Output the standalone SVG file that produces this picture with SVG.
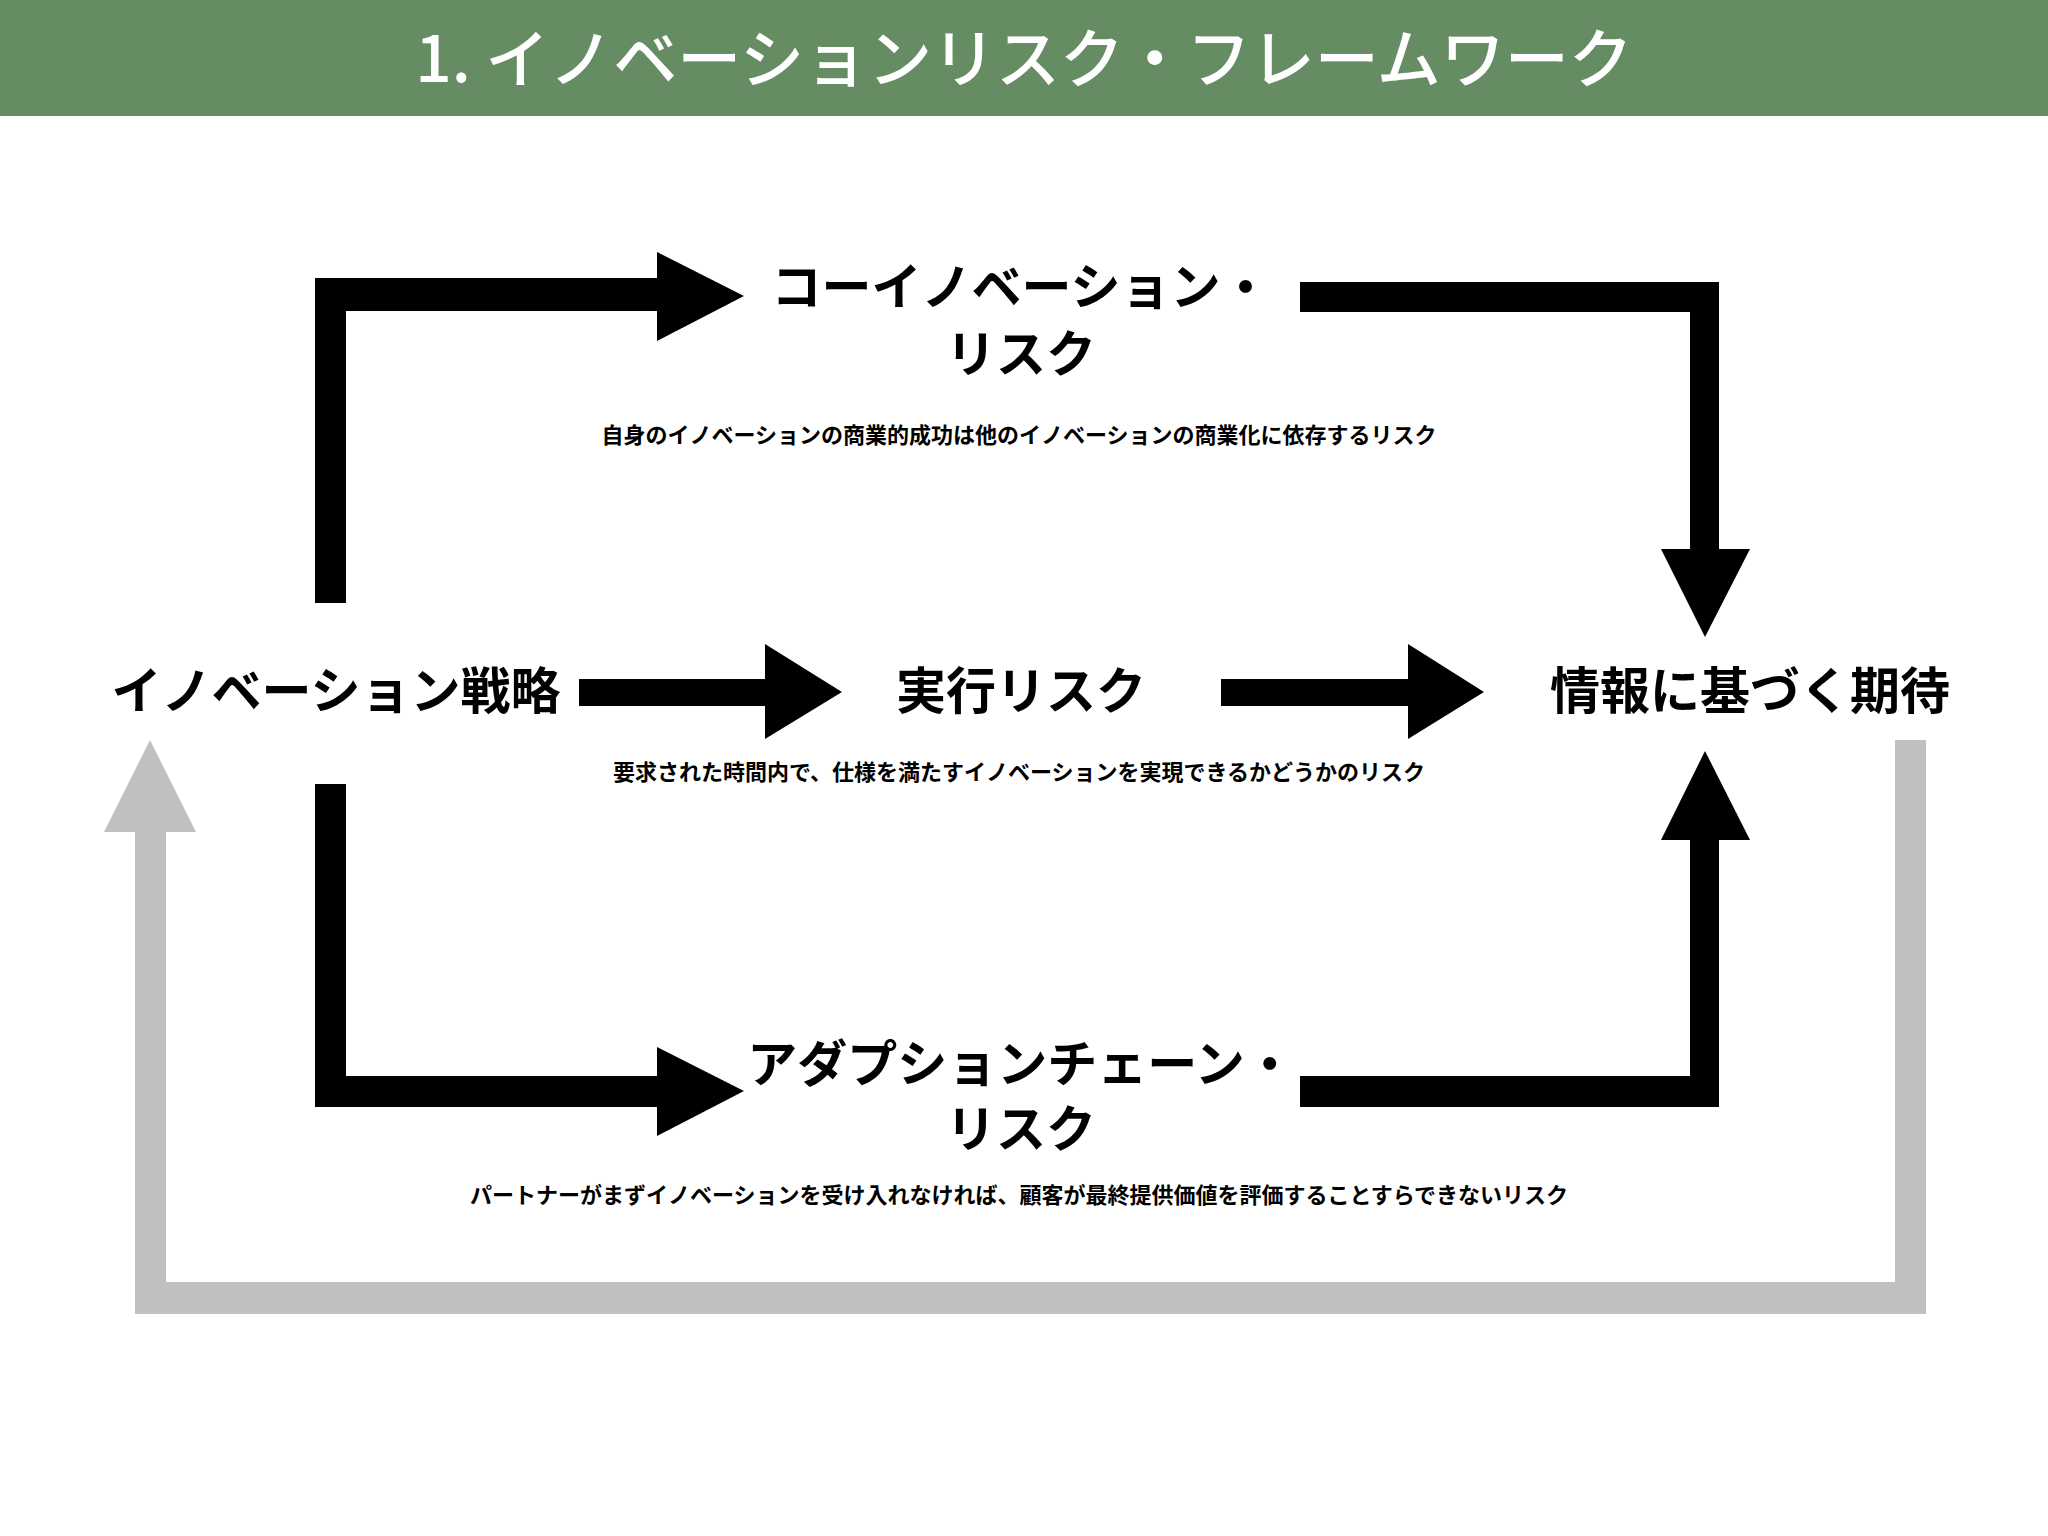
<svg xmlns="http://www.w3.org/2000/svg" width="2048" height="1536" viewBox="0 0 2048 1536">
<style>
text{font-family:"Noto Sans CJK JP",sans-serif;text-anchor:middle;fill:#000}
.t{font-size:50px;font-weight:700}
.d{font-size:22px;font-weight:700}
.h{font-size:64px;fill:#fff;font-weight:500}
</style>
<rect width="2048" height="1536" fill="#fff"/>
<rect width="2048" height="116" fill="#658c62"/>
<text class="h" x="1024" y="82">1. イノベーションリスク・フレームワーク</text>
<g id="connectors">
<path d="M315 603V278H660V311H346V603Z" fill="#000"/>
<polygon points="657,252 744,296 657,341" fill="#000"/>
<path d="M1300 282H1719V549H1690V312H1300Z" fill="#000"/>
<polygon points="1661,549 1750,549 1705,637" fill="#000"/>
<rect x="579" y="679" width="188" height="27" fill="#000"/>
<polygon points="765,644 842,692 765,739" fill="#000"/>
<rect x="1221" y="679" width="189" height="27" fill="#000"/>
<polygon points="1408,644 1484,692 1408,739" fill="#000"/>
<path d="M315 784H346V1076H660V1107H315Z" fill="#000"/>
<polygon points="657,1047 744,1091 657,1136" fill="#000"/>
<path d="M1300 1076H1690V838H1719V1107H1300Z" fill="#000"/>
<polygon points="1661,840 1750,840 1705,751" fill="#000"/>
<path d="M1895 740H1926V1314H135V830H166V1282H1895Z" fill="#c0bfc2"/>
<polygon points="104,832 196,832 150,740" fill="#c0bfc2"/>
</g>
<g id="strategy"><text class="t" x="336" y="709">イノベーション戦略</text></g>
<g id="execution"><text class="t" x="1021" y="709">実行リスク</text><text class="d" x="1019" y="780">要求された時間内で、仕様を満たすイノベーションを実現できるかどうかのリスク</text></g>
<g id="expectation"><text class="t" x="1750" y="709">情報に基づく期待</text></g>
<g id="coinnovation"><text class="t" x="1021" y="305">コーイノベーション・</text><text class="t" x="1021" y="372">リスク</text><text class="d" x="1019" y="443">自身のイノベーションの商業的成功は他のイノベーションの商業化に依存するリスク</text></g>
<g id="adoption"><text class="t" x="1021" y="1082">アダプションチェーン・</text><text class="t" x="1021" y="1147">リスク</text><text class="d" x="1019" y="1203">パートナーがまずイノベーションを受け入れなければ、顧客が最終提供価値を評価することすらできないリスク</text></g>
</svg>
